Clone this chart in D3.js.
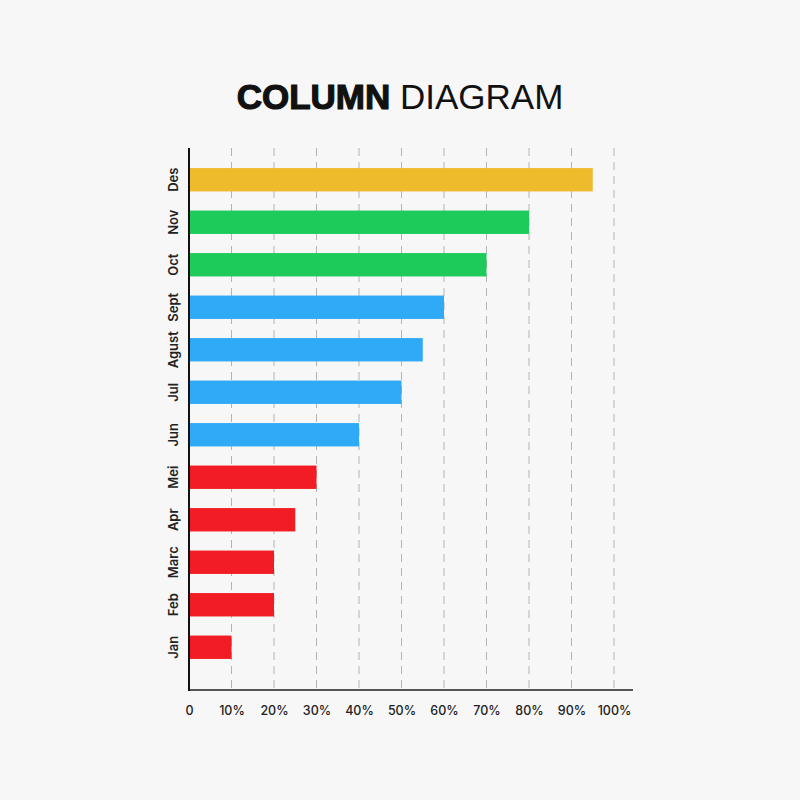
<!DOCTYPE html>
<html>
<head>
<meta charset="utf-8">
<script src="https://cdn.jsdelivr.net/npm/d3@7"></script>
<style>
  body { margin: 0; background: #f7f7f7; }
</style>
</head>
<body>
<div id="chart"></div>
<script>
// chart data
var months = ["Des", "Nov", "Oct", "Sept", "Agust", "Jul", "Jun", "Mei", "Apr", "Marc", "Feb", "Jan"];
var values = [95, 80, 70, 60, 55, 50, 40, 30, 25, 20, 20, 10];
var groups = ["yellow", "green", "green", "blue", "blue", "blue", "blue", "red", "red", "red", "red", "red"];
var tickValues = [0, 10, 20, 30, 40, 50, 60, 70, 80, 90, 100];

var colors = {
  yellow: "#edbb2c",
  green: "#1dcb5a",
  blue: "#2eaaf7",
  red: "#f21d24"
};

// svg area
var svgWidth = 800;
var svgHeight = 800;

var svg = d3.select("#chart")
  .append("svg")
  .attr("width", svgWidth)
  .attr("height", svgHeight);

svg.append("rect")
  .attr("width", svgWidth)
  .attr("height", svgHeight)
  .attr("fill", "#f7f7f7");

// title
var title = svg.append("text")
  .attr("x", 400)
  .attr("y", 109)
  .attr("text-anchor", "middle")
  .attr("font-family", "Liberation Sans, Arial, sans-serif")
  .attr("font-size", "35px")
  .attr("fill", "#111");

title.append("tspan")
  .attr("font-weight", "bold")
  .attr("stroke", "#111")
  .attr("stroke-width", 1.2)
  .text("COLUMN");

title.append("tspan")
  .attr("font-weight", "normal")
  .text(" DIAGRAM");

// scales
var chartLeft = 189, chartRight = 614, axisEnd = 633;
var chartTop = 148, chartBottom = 690;

var xScale = d3.scaleLinear()
  .domain([0, 100])
  .range([chartLeft, chartRight]);

var yScale = d3.scaleBand()
  .domain(months)
  .range([158.5, 668.5])
  .paddingInner(0.45)
  .paddingOuter(0.225);

// dashed grid lines
svg.append("g")
  .selectAll("line")
  .data(tickValues.slice(1))
  .enter()
  .append("line")
  .attr("x1", d => xScale(d))
  .attr("x2", d => xScale(d))
  .attr("y1", chartTop)
  .attr("y2", chartBottom)
  .attr("stroke", "#b4b4b4")
  .attr("stroke-width", 1)
  .attr("stroke-dasharray", "8,6");

// bars
svg.append("g")
  .selectAll("rect")
  .data(months)
  .enter()
  .append("rect")
  .attr("x", xScale(0))
  .attr("y", d => yScale(d))
  .attr("width", (d, i) => xScale(values[i]) - xScale(0))
  .attr("height", yScale.bandwidth())
  .attr("fill", (d, i) => colors[groups[i]]);

// x axis
var xAxis = d3.axisBottom(xScale)
  .tickValues(tickValues)
  .tickSize(0)
  .tickPadding(16)
  .tickFormat(d => d === 0 ? "0" : d + "%");

var xg = svg.append("g")
  .attr("transform", `translate(0, ${chartBottom})`)
  .call(xAxis);

xg.select(".domain").remove();
xg.append("line")
  .attr("x1", chartLeft)
  .attr("x2", axisEnd)
  .attr("stroke", "#555")
  .attr("stroke-width", 2);

xg.selectAll("text")
  .attr("font-family", "Inter, Noto Sans, sans-serif")
  .attr("font-size", "12.5px")
  .attr("font-weight", 500)
  .attr("fill", "#222");

// y axis
var yAxis = d3.axisLeft(yScale)
  .tickSize(0)
  .tickPadding(0);

var yg = svg.append("g")
  .attr("transform", `translate(${chartLeft}, 0)`)
  .call(yAxis);

yg.select(".domain").remove();
yg.append("line")
  .attr("y1", chartTop)
  .attr("y2", chartBottom + 1)
  .attr("stroke", "#111")
  .attr("stroke-width", 2);

yg.selectAll(".tick text")
  .attr("x", 0)
  .attr("y", 0)
  .attr("dy", "0.35em")
  .attr("text-anchor", "middle")
  .attr("transform", "translate(-16, 0) rotate(-90)")
  .attr("font-family", "Inter, Noto Sans, sans-serif")
  .attr("font-size", "13px")
  .attr("font-weight", 600)
  .attr("fill", "#222");
</script>
</body>
</html>
